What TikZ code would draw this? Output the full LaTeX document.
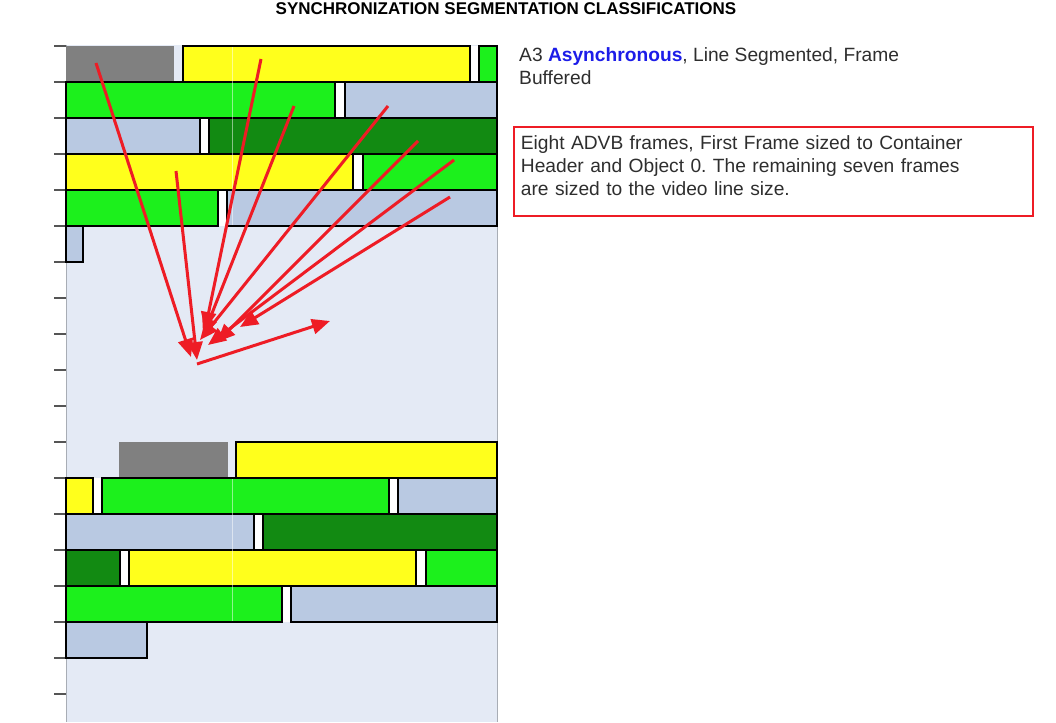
\documentclass[tikz,border=0pt]{standalone}
\usepackage{fontspec}
\setmainfont{Liberation Sans}
\usetikzlibrary{arrows.meta}
\frenchspacing
\definecolor{panelc}{HTML}{E4EAF5}
\definecolor{edgec}{HTML}{A8ADB5}
\definecolor{tickc}{HTML}{555555}
\definecolor{grayc}{HTML}{808080}
\definecolor{yellowc}{HTML}{FFFF1C}
\definecolor{greenc}{HTML}{1CF01C}
\definecolor{darkgreenc}{HTML}{128A12}
\definecolor{lightbluec}{HTML}{B9C9E2}
\definecolor{markc}{HTML}{EE1C25}
\definecolor{inkc}{HTML}{2E2E2E}
\definecolor{bluec}{HTML}{1C1CE8}

\begin{document}
\begin{tikzpicture}[x=1pt, y=-1pt,
  blk/.style={draw=black, line width=1.8pt},
  pointer/.style={markc, line width=3pt, -{Triangle[length=18pt, width=15pt]}}]
  \useasboundingbox (0,0) rectangle (1056,722);
  % panel
  \fill[panelc] (66,45) rectangle (497,722);
  \draw[edgec, line width=1pt] (66,45) -- (66,722) (497,45) -- (497,722);
  \foreach \y in {46,82,...,694}
    \draw[tickc, line width=1.6pt] (54,\y) -- (66,\y);
  % upper frames
  \fill[white] (183,46) rectangle (497,82);
  \fill[white] (66,82) rectangle (497,226);
  \fill[grayc] (66,46) rectangle (174,82);
  \draw[blk, fill=yellowc] (183,46) rectangle (470,82);
  \draw[blk, fill=greenc] (479,46) rectangle (497,82);
  \draw[blk, fill=greenc] (66,82) rectangle (335,118);
  \draw[blk, fill=lightbluec] (345,82) rectangle (497,118);
  \draw[blk, fill=lightbluec] (66,118) rectangle (200,154);
  \draw[blk, fill=darkgreenc] (209,118) rectangle (497,154);
  \draw[blk, fill=yellowc] (66,154) rectangle (353,190);
  \draw[blk, fill=greenc] (363,154) rectangle (497,190);
  \draw[blk, fill=greenc] (66,190) rectangle (218,226);
  \draw[blk, fill=lightbluec] (227,190) rectangle (497,226);
  \draw[blk, fill=lightbluec] (66,226) rectangle (83,262);
  % lower frames
  \fill[white] (66,478) rectangle (497,622);
  \fill[grayc] (119,442) rectangle (228,478);
  \draw[blk, fill=yellowc] (236,442) rectangle (497,478);
  \draw[blk, fill=yellowc] (66,478) rectangle (93,514);
  \draw[blk, fill=greenc] (102,478) rectangle (389,514);
  \draw[blk, fill=lightbluec] (398,478) rectangle (497,514);
  \draw[blk, fill=lightbluec] (66,514) rectangle (254,550);
  \draw[blk, fill=darkgreenc] (263,514) rectangle (497,550);
  \draw[blk, fill=darkgreenc] (66,550) rectangle (120,586);
  \draw[blk, fill=yellowc] (129,550) rectangle (416,586);
  \draw[blk, fill=greenc] (426,550) rectangle (497,586);
  \draw[blk, fill=greenc] (66,586) rectangle (282,622);
  \draw[blk, fill=lightbluec] (291,586) rectangle (497,622);
  \draw[blk, fill=lightbluec] (66,622) rectangle (147,658);
  \draw[white, opacity=0.5, line width=0.8pt] (232,47) -- (232,225) (232,479) -- (232,621);

  % pointers
  \coordinate (hub) at (197,364);
  \coordinate (t1) at (96,63);   \coordinate (h1) at (191,357);
  \coordinate (t2) at (176,171); \coordinate (h2) at (197,360);
  \coordinate (t3) at (261,59);  \coordinate (h3) at (205,330);
  \coordinate (t4) at (294,106); \coordinate (h4) at (203,336);
  \coordinate (t5) at (388,106); \coordinate (h5) at (200,340);
  \coordinate (t6) at (418,141); \coordinate (h6) at (217,342);
  \coordinate (t7) at (454,160); \coordinate (h7) at (208,345);
  \coordinate (t8) at (450,197); \coordinate (h8) at (240,327);
  \coordinate (far) at (330,321);
  \foreach \i in {1,...,8}
    \draw[pointer] (t\i) -- (h\i);
  \draw[pointer] (hub) -- (far);

  % texts
  \node[font=\bfseries\fontsize{17}{20}\selectfont, text=black] (title) at (506,9)
    {SYNCHRONIZATION SEGMENTATION CLASSIFICATIONS};
  \node[anchor=north west, align=left, inner sep=0pt, text=inkc,
        font=\fontsize{19.2}{23}\selectfont] (kind) at (519,47)
    {A3 \textcolor{bluec}{\bfseries Asynchronous}, Line Segmented, Frame\\Buffered};
  \node[anchor=north west, draw=markc, line width=1.8pt, text=inkc,
        minimum width=519pt, minimum height=89pt, text width=505pt,
        inner xsep=5pt, align=left,
        font=\fontsize{19.2}{22.7}\selectfont] (note) at (513,126)
    {Eight ADVB frames, First Frame sized to Container\\
     Header and Object 0. The remaining seven frames\\
     are sized to the video line size.\rule[-11.6pt]{0pt}{0pt}};
\end{tikzpicture}
\end{document}
